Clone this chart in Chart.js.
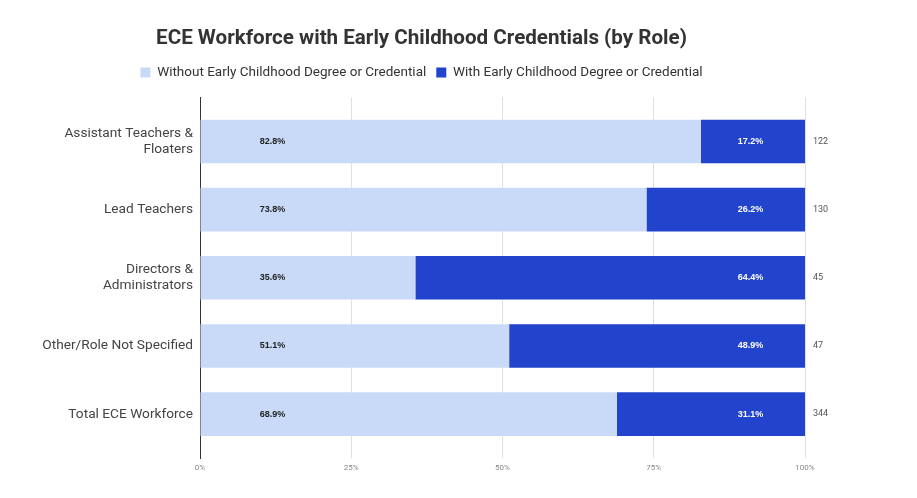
<!DOCTYPE html>
<html>
<head>
<meta charset="utf-8">
<script src="https://cdn.jsdelivr.net/npm/chart.js@4.4.1/dist/chart.umd.min.js"></script>
<style>
  html, body { margin: 0; padding: 0; background: #fff; }
  #wrap { width: 917px; height: 498px; }
</style>
</head>
<body>
<div id="wrap"><canvas id="myChart"></canvas></div>
<script>
// data
const roles = [['Assistant Teachers &', 'Floaters'], 'Lead Teachers', ['Directors &', 'Administrators'], 'Other/Role Not Specified', 'Total ECE Workforce']
const withoutCred = [82.8, 73.8, 35.6, 51.1, 68.9]
const withCred = [17.2, 26.2, 64.4, 48.9, 31.1]
const counts = [122, 130, 45, 47, 344]
const xTicks = [0, 25, 50, 75, 100]
const seriesNames = ['Without Early Childhood Degree or Credential', 'With Early Childhood Degree or Credential']

const lightBlue = '#c9daf8'
const darkBlue = '#2243cc'

// bar value labels + the counts on the right
const labelPlugin = {
  id: 'barLabels',
  beforeInit(chart) {
    // a bit more room under the legend
    const fit = chart.legend.fit
    chart.legend.fit = function () {
      fit.call(chart.legend)
      this.height += 8
    }
  },
  afterDatasetsDraw(chart) {
    const ctx = chart.ctx
    const xs = chart.scales.x, ys = chart.scales.y
    ctx.save()
    ctx.font = 'bold 9px "Liberation Sans", Arial, sans-serif'
    ctx.textBaseline = 'middle'
    ctx.textAlign = 'center'
    for (let i = 0; i < roles.length; i++) {
      const y = ys.getPixelForValue(i)
      ctx.fillStyle = '#222'
      ctx.fillText(withoutCred[i].toFixed(1) + '%', xs.getPixelForValue(12), y)
      ctx.fillStyle = '#fff'
      ctx.fillText(withCred[i].toFixed(1) + '%', xs.getPixelForValue(91), y)
    }
    ctx.font = '9px Roboto, sans-serif'
    ctx.fillStyle = '#555'
    ctx.textAlign = 'left'
    for (let i = 0; i < counts.length; i++) {
      ctx.fillText(String(counts[i]), chart.chartArea.right + 8, ys.getPixelForValue(i))
    }
    ctx.restore()
  }
}

var ctx = document.getElementById('myChart').getContext('2d')
var myChart = new Chart(ctx, {
  type: 'bar',
  data: {
    datasets: [{
      label: seriesNames[0],
      data: withoutCred.map((v, i) => ({ x: v, y: i })),
      backgroundColor: lightBlue,
      borderWidth: 0
    }, {
      label: seriesNames[1],
      data: withCred.map((v, i) => ({ x: v, y: i })),
      backgroundColor: darkBlue,
      borderWidth: 0
    }]
  },
  options: {
    indexAxis: 'y',
    responsive: true,
    maintainAspectRatio: false,
    animation: false,
    barPercentage: 0.64,
    categoryPercentage: 1,
    layout: { padding: { left: 38, right: 112, top: 0, bottom: 20 } },
    plugins: {
      title: {
        display: true,
        text: 'ECE Workforce with Early Childhood Credentials (by Role)',
        color: '#333',
        font: { family: 'Roboto', size: 20.6, weight: 'bold' },
        padding: { top: 26, bottom: 5 }
      },
      legend: {
        display: true,
        position: 'top',
        labels: {
          boxWidth: 10,
          boxHeight: 10,
          color: '#333',
          font: { family: 'Roboto', size: 13.5 },
          padding: 10
        }
      },
      tooltip: { enabled: false }
    },
    scales: {
      x: {
        stacked: true,
        min: 0,
        max: 100,
        afterBuildTicks: (s) => { s.ticks = xTicks.map(v => ({ value: v })) },
        ticks: {
          color: '#888',
          font: { family: 'Roboto', size: 8 },
          padding: 5,
          callback: (v) => v + '%'
        },
        grid: {
          drawTicks: false,
          color: (c) => c.tick && c.tick.value === 0 ? '#333' : '#e0e0e0'
        },
        border: { display: false }
      },
      y: {
        type: 'linear',
        stacked: true,
        reverse: true,
        offset: false,
        min: -0.65,
        max: 4.65,
        afterBuildTicks: (s) => { s.ticks = roles.map((r, i) => ({ value: i })) },
        afterFit: (s) => { s.width = 162 },
        ticks: {
          color: '#444',
          font: { family: 'Roboto', size: 13.7 },
          padding: 7,
          callback: (v) => roles[v]
        },
        grid: { display: false, drawTicks: false },
        border: { display: true, color: '#333' }
      }
    }
  },
  plugins: [labelPlugin]
})
</script>
</body>
</html>
